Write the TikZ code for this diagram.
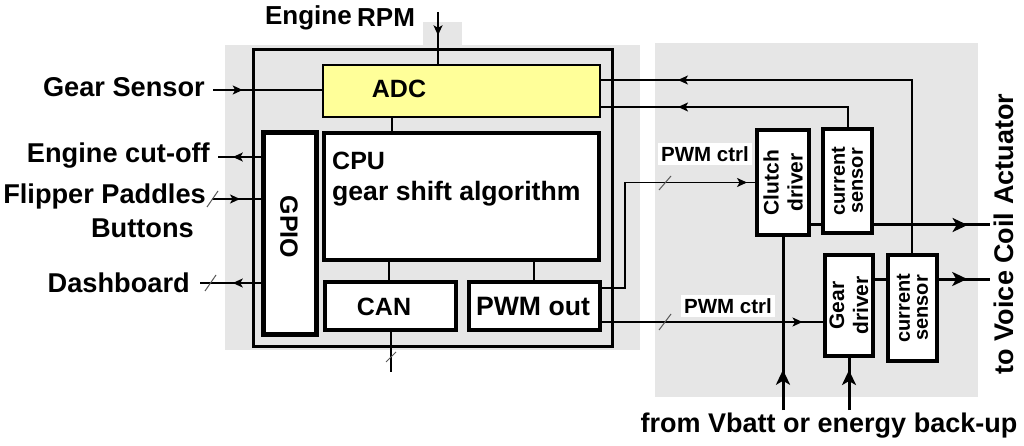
\documentclass[tikz,border=0pt]{standalone}
\usepackage{fontspec}
\setmainfont{Liberation Sans}
\usetikzlibrary{arrows.meta,decorations.markings}
\definecolor{bggrey}{RGB}{230,230,230}
\definecolor{adcyellow}{RGB}{255,255,153}
\begin{document}
\begin{tikzpicture}[x=1pt,y=-1pt,
  bx/.style={draw, anchor=north west, inner sep=0pt, outer sep=0pt, fill=white},
  big/.style={font=\fontsize{27.2}{30}\selectfont\bfseries, inner sep=0pt},
  mid/.style={font=\fontsize{25}{29}\selectfont\bfseries, inner sep=0pt},
  small/.style={font=\fontsize{21}{24}\selectfont\bfseries, inner sep=0pt},
  vsmall/.style={font=\fontsize{20}{18}\selectfont\bfseries, inner sep=0pt},
  ctrl/.style={font=\fontsize{20.5}{22}\selectfont\bfseries, fill=white, inner sep=3pt},
  wire/.style={line width=1.5pt},
  power/.style={line width=3pt},
  midarrow/.style={postaction={decorate}, decoration={markings,
     mark=at position #1 with {\arrow{Stealth[length=10pt,width=9pt,inset=2.5pt]}}}},
  bigarrow/.style={postaction={decorate}, decoration={markings,
     mark=at position #1 with {\arrow{Stealth[length=15pt,width=14pt,inset=4pt]}}}},
  slash/.style={line width=1pt, black!65}
]
\useasboundingbox (0,0) rectangle (1024,446);

% grey backgrounds
\fill[bggrey] (225,45) rectangle (640,350);
\fill[bggrey] (423,22) rectangle (462,45);
\fill[bggrey] (655,43) rectangle (978,397);

% MCU
\node[bx, line width=3pt, fill=none, minimum width=359pt, minimum height=297pt] (mcu) at (253.5,49.5) {};
\node[bx, line width=2pt, fill=adcyellow, minimum width=277pt, minimum height=52pt] (adc) at (323,65) {};
\node[bx, line width=5pt, minimum width=53pt, minimum height=201pt] (gpio) at (263,133) {};
\node[bx, line width=4pt, minimum width=275pt, minimum height=127pt] (cpu) at (324,133) {};
\node[bx, line width=3.5pt, minimum width=131pt, minimum height=48pt] (can) at (325,282) {};
\node[bx, line width=3.5pt, minimum width=131pt, minimum height=48pt] (pwm) at (469,282) {};

% drivers and sensors
\node[bx, line width=3.5pt, minimum width=52pt, minimum height=105pt] (clutch) at (757,130) {};
\node[bx, line width=3.5pt, minimum width=49pt, minimum height=104pt] (cs1) at (823,129) {};
\node[bx, line width=3.5pt, minimum width=48pt, minimum height=101pt] (gear) at (825,255) {};
\node[bx, line width=3.5pt, minimum width=49pt, minimum height=106pt] (cs2) at (888,255) {};

% texts in boxes
\node[mid, anchor=base] (adct) at (399,98) {ADC};
\node[mid, anchor=base west] (cput) at (332,170) {CPU};
\node[mid, anchor=base west, font=\fontsize{26.6}{29}\selectfont\bfseries] (algt) at (332,201) {gear shift algorithm};
\node[mid, rotate=-90] (gpiot) at (289,227) {GPIO};
\node[mid, anchor=base] (cant) at (384,315) {CAN};
\node[mid, anchor=base, font=\fontsize{26.6}{29}\selectfont\bfseries] (pwmt) at (533,315) {PWM out};
\node[small, rotate=90, align=center] (clutcht) at (clutch.center) {Clutch\\driver};
\node[vsmall, rotate=90, align=center] (cs1t) at (cs1.center) {current\\sensor};
\node[small, rotate=90, align=center] (geart) at (gear.center) {Gear\\driver};
\node[vsmall, rotate=90, align=center] (cs2t) at (cs2.center) {current\\sensor};

% outside labels
\node[big, anchor=base east, font=\fontsize{26}{30}\selectfont\bfseries] (engine) at (352,25) {Engine};
\node[big, anchor=base west, font=\fontsize{26}{30}\selectfont\bfseries] (rpm) at (357,27) {RPM};
\node[big, anchor=base east] (gsens) at (205,97) {Gear Sensor};
\node[big, anchor=base east] (ecut) at (210,163) {Engine cut-off};
\node[big, anchor=base east] (flip) at (206,204) {Flipper Paddles};
\node[big, anchor=base east] (butt) at (194,237) {Buttons};
\node[big, anchor=base east] (dash) at (190,292) {Dashboard};
\node[big, anchor=base, font=\fontsize{27}{30}\selectfont\bfseries] (vbatt) at (829,432) {from Vbatt or energy back-up};
\node[big, rotate=90, font=\fontsize{27}{30}\selectfont\bfseries] (vca) at (1004,234) {to Voice Coil Actuator};
\node[ctrl] (pc1) at (705,154) {PWM ctrl};
\node[ctrl] (pc2) at (728,306) {PWM ctrl};

% coordinates for free ends
\coordinate (rpmin) at (438,12);
\coordinate (gsin) at (213,90);
\coordinate (ecout) at (218,157);
\coordinate (flin) at (212,199);
\coordinate (dbout) at (200,283);
\coordinate (canout) at (391,372);
\coordinate (bend) at (625,288);
\coordinate (y322) at (600,322);
\coordinate (fb1) at (848,107);
\coordinate (fb2) at (912,80);
\coordinate (out1) at (990,225);
\coordinate (out2) at (990,279);
\coordinate (sup1) at (783,410);
\coordinate (sup2) at (849,410);

% inputs / outputs of MCU
\draw[wire, midarrow=0.44] (rpmin) -- (rpmin |- adc.north);
\draw[wire, midarrow=0.27] (gsin) -- (gsin -| adc.west);
\draw[wire, midarrow=0.67] (ecout -| gpio.west) -- (ecout);
\draw[wire, midarrow=0.55] (flin) -- (flin -| gpio.west);
\draw[wire, midarrow=0.48] (dbout -| gpio.west) -- (dbout);
\draw[slash] (207,207) -- (218,191);
\draw[slash] (205,291) -- (216,275);

% internal
\draw[wire] (392,0 |- adc.south) -- (392,0 |- cpu.north);
\draw[wire] (389,0 |- cpu.south) -- (389,0 |- can.north);
\draw[wire] (534,0 |- cpu.south) -- (534,0 |- pwm.north);
\draw[wire] (391,0 |- can.south) -- (canout);
\draw[slash] (386,362) -- (396,352);

% PWM control lines
\draw[wire, midarrow=0.962] (bend -| pwm.east) -- (bend) |- (clutch.west);
\draw[slash] (659,190) -- (671,176);
\draw[wire, midarrow=0.90] (y322) -- (y322 -| gear.west);
\draw[slash] (659,330) -- (671,314);

% feedback to ADC
\draw[wire, midarrow=0.711] (fb1 |- cs1.north) -- (fb1) -- (fb1 -| adc.east);
\draw[wire, midarrow=0.84] (fb2 |- cs2.north) -- (fb2) -- (fb2 -| adc.east);

% power path
\draw[power] (out1 -| clutch.east) -- (out1 -| cs1.west);
\draw[power, bigarrow=0.81] (out1 -| cs1.east) -- (out1);
\draw[power] (out2 -| gear.east) -- (out2 -| cs2.west);
\draw[power, bigarrow=0.57] (out2 -| cs2.east) -- (out2);
\draw[power, bigarrow=0.23] (sup1) -- (sup1 |- clutch.south);
\draw[power, bigarrow=0.74] (sup2) -- (sup2 |- gear.south);

\end{tikzpicture}
\end{document}
